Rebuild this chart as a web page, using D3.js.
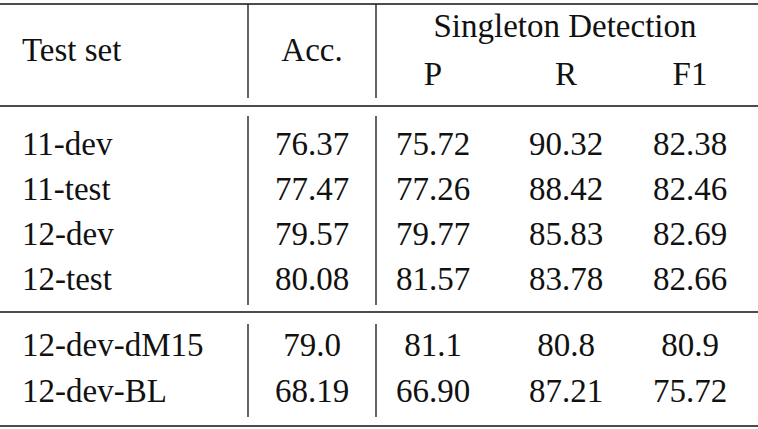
<!DOCTYPE html><html><head><meta charset="utf-8"><script src="https://cdn.jsdelivr.net/npm/d3@7"></script>
<style>body{margin:0;background:#fff} text{font-family:"Liberation Serif","Times New Roman",Times,serif;}</style></head><body><svg id="c" width="758" height="429"></svg>
<script>
const testSets=["11-dev","11-test","12-dev","12-test","12-dev-dM15","12-dev-BL"];
const acc=["76.37","77.47","79.57","80.08","79.0","68.19"];
const precision=["75.72","77.26","79.77","81.57","81.1","66.90"];
const recall=["90.32","88.42","85.83","83.78","80.8","87.21"];
const f1=["82.38","82.46","82.69","82.66","80.9","75.72"];
const svg=d3.select("#c");
const fs=33;
const colX={acc:312,p:433,r:566,f1:690};
const rowY=[155,200,245,290,356,402];
function txt(x,y,s,anchor){svg.append("text").attr("x",x).attr("y",y).attr("text-anchor",anchor).attr("font-size",fs).attr("fill","#111").text(s);}
function hl(y,w){svg.append("line").attr("x1",0).attr("x2",758).attr("y1",y).attr("y2",y).attr("stroke","#111").attr("stroke-width",w);}
function vl(x,y1,y2){svg.append("line").attr("x1",x).attr("x2",x).attr("y1",y1).attr("y2",y2).attr("stroke","#111").attr("stroke-width",1.3);}
hl(4,1.6);hl(106,1.6);hl(312,1.6);hl(426,1.6);
[248,376].forEach(x=>{vl(x,4,98);vl(x,116,305);vl(x,324,417);});
txt(22,61,"Test set","start");
txt(colX.acc,61,"Acc.","middle");
txt(565,37,"Singleton Detection","middle");
txt(colX.p,85,"P","middle");txt(colX.r,85,"R","middle");txt(colX.f1,85,"F1","middle");
testSets.forEach((t,i)=>{
 txt(22,rowY[i],t,"start");
 txt(colX.acc,rowY[i],acc[i],"middle");
 txt(colX.p,rowY[i],precision[i],"middle");
 txt(colX.r,rowY[i],recall[i],"middle");
 txt(colX.f1,rowY[i],f1[i],"middle");
});
</script></body></html>
